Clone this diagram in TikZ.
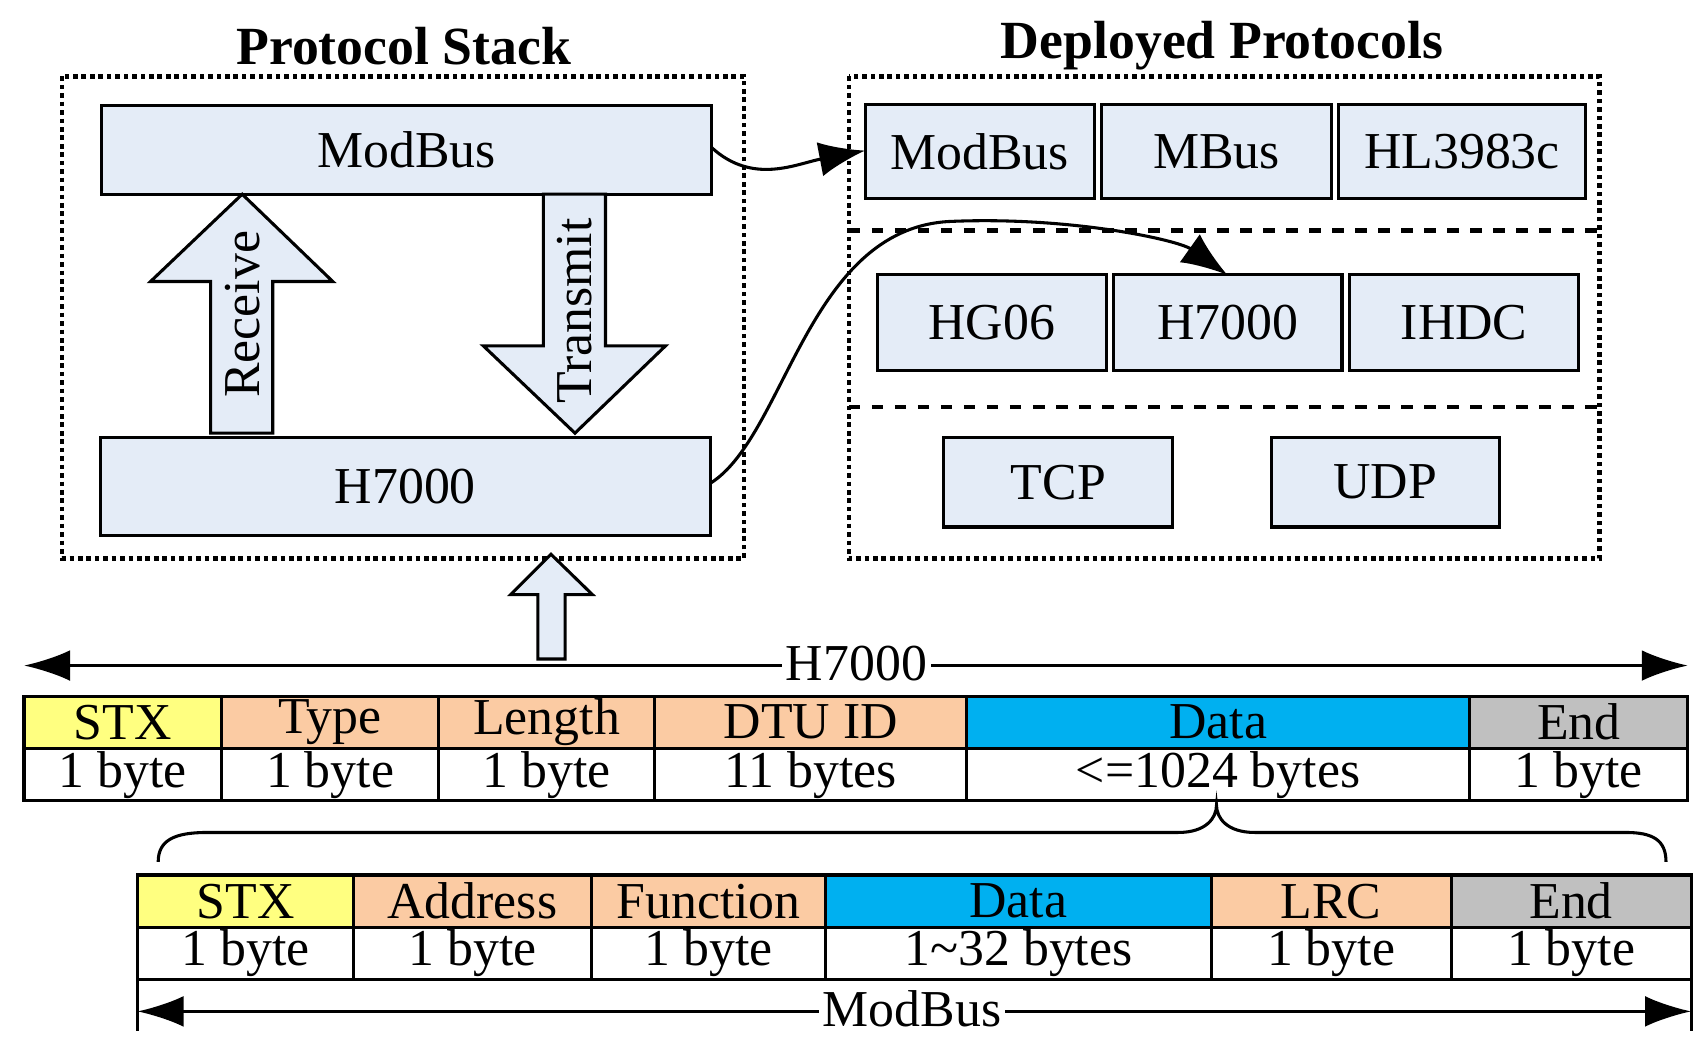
\documentclass[tikz,border=0pt]{standalone}
\usepackage{fontspec}
\setmainfont{Liberation Serif}
\usetikzlibrary{arrows.meta}
\definecolor{boxblue}{HTML}{E4ECF7}
\definecolor{cyell}{HTML}{FFFF80}
\definecolor{corange}{HTML}{FBCBA3}
\definecolor{cblue}{HTML}{00B0F0}
\definecolor{cgray}{HTML}{C0C0C0}
\tikzset{
  txt/.style={font=\fontsize{13.5}{15}\selectfont, inner sep=0pt},
  title/.style={font=\fontsize{14}{16}\selectfont\bfseries},
  proto/.style={draw, thick, fill=boxblue},
  cell/.style={draw, thick},
}
\newcommand{\protobox}[5]{%
  \filldraw[proto] (#1,#2) rectangle (#3,#4);
  \node[txt] at ({(#1+#3)/2},{(#2+#4)/2}) {#5};}
\begin{document}
\begin{tikzpicture}[x=0.01cm, y=-0.01cm]
    \useasboundingbox (0,0) rectangle (1560,960);

    \node[title] at (370,42) {Protocol Stack};
    \node[title] at (1120,42) {Deployed Protocols};
    \draw[densely dotted, very thick] (57,70) rectangle (682,512);
    \draw[densely dotted, very thick] (778,70) rectangle (1466,512);

    % protocol stack
    \protobox{93}{97}{652}{178}{ModBus}
    \protobox{92}{401}{651}{491}{H7000}
    \filldraw[proto] (193,397) -- (193,258) -- (138,258) -- (222,178) -- (305,258)
        -- (250,258) -- (250,397) -- cycle;
    \node[txt, rotate=90] at (222,288) {Receive};
    \filldraw[proto] (498,178) -- (498,317) -- (443,317) -- (527,397) -- (610,317)
        -- (555,317) -- (555,178) -- cycle;
    \node[txt, rotate=90] at (527,285) {Transmit};
    \filldraw[proto] (493,604) -- (493,545) -- (468,545) -- (505,508) -- (543,545)
        -- (518,545) -- (518,604) -- cycle;

    % deployed protocols
    \protobox{793}{96}{1003}{182}{ModBus}
    \protobox{1010}{96}{1220}{182}{MBus}
    \protobox{1227}{96}{1453}{182}{HL3983c}
    \draw[dashed, very thick] (778,211) -- (1466,211);
    \protobox{804}{252}{1014}{340}{HG06}
    \protobox{1021}{252}{1230}{340}{H7000}
    \protobox{1237}{252}{1447}{340}{IHDC}
    \draw[dashed, very thick] (778,373) -- (1466,373);
    \protobox{865}{401}{1075}{483}{TCP}
    \protobox{1165}{401}{1374}{483}{UDP}

    \draw[-{Latex[length=12pt,width=9pt]}, thick] (652,135) .. controls (690,170) and (730,150) .. (793,138);
    \draw[-{Latex[length=12pt,width=9pt]}, thick] (651,443) .. controls (720,400) and (740,210) .. (870,203)
        .. controls (980,198) and (1080,220) .. (1125,252);

    % H7000 frame
    \draw[{Latex[length=12pt,width=8pt]}-{Latex[length=12pt,width=8pt]}, thick] (22,610) -- (1547,610);
    \node[txt, fill=white, inner sep=1pt] at (785,608) {H7000};
    \foreach \xa/\xb/\col/\hd/\sz in {22/203/cyell/STX/1 byte, 203/402/corange/Type/1 byte,
        402/600/corange/Length/1 byte, 600/886/corange/DTU ID/11 bytes,
        886/1347/cblue/Data/<=1024 bytes, 1347/1547/cgray/End/1 byte} {
      \filldraw[cell, fill=\col] (\xa,638) rectangle (\xb,686);
      \draw[cell] (\xa,686) rectangle (\xb,734);
      \node[txt] at ({(\xa+\xb)/2},662) {\hd};
      \node[txt] at ({(\xa+\xb)/2},710) {\sz};
    }

    % brace
    \draw[thick] (145,790) .. controls (145,770) and (160,763) .. (190,763) -- (1080,763)
        .. controls (1105,763) and (1115,750) .. (1115,738)
        .. controls (1115,750) and (1125,763) .. (1150,763) -- (1490,763)
        .. controls (1515,763) and (1527,770) .. (1527,790);

    % ModBus frame
    \foreach \xa/\xb/\col/\hd/\sz in {126/324/cyell/STX/1 byte, 324/542/corange/Address/1 byte,
        542/757/corange/Function/1 byte, 757/1110/cblue/Data/1\textasciitilde32 bytes,
        1110/1330/corange/LRC/1 byte, 1330/1550/cgray/End/1 byte} {
      \filldraw[cell, fill=\col] (\xa,802) rectangle (\xb,850);
      \draw[cell] (\xa,850) rectangle (\xb,898);
      \node[txt] at ({(\xa+\xb)/2},826) {\hd};
      \node[txt] at ({(\xa+\xb)/2},874) {\sz};
    }
    \draw[thick] (126,898) -- (126,945);
    \draw[thick] (1550,898) -- (1550,945);
    \draw[{Latex[length=12pt,width=8pt]}-{Latex[length=12pt,width=8pt]}, thick] (126,927) -- (1550,927);
    \node[txt, fill=white, inner sep=1pt] at (836,925) {ModBus};
\end{tikzpicture}
\end{document}
